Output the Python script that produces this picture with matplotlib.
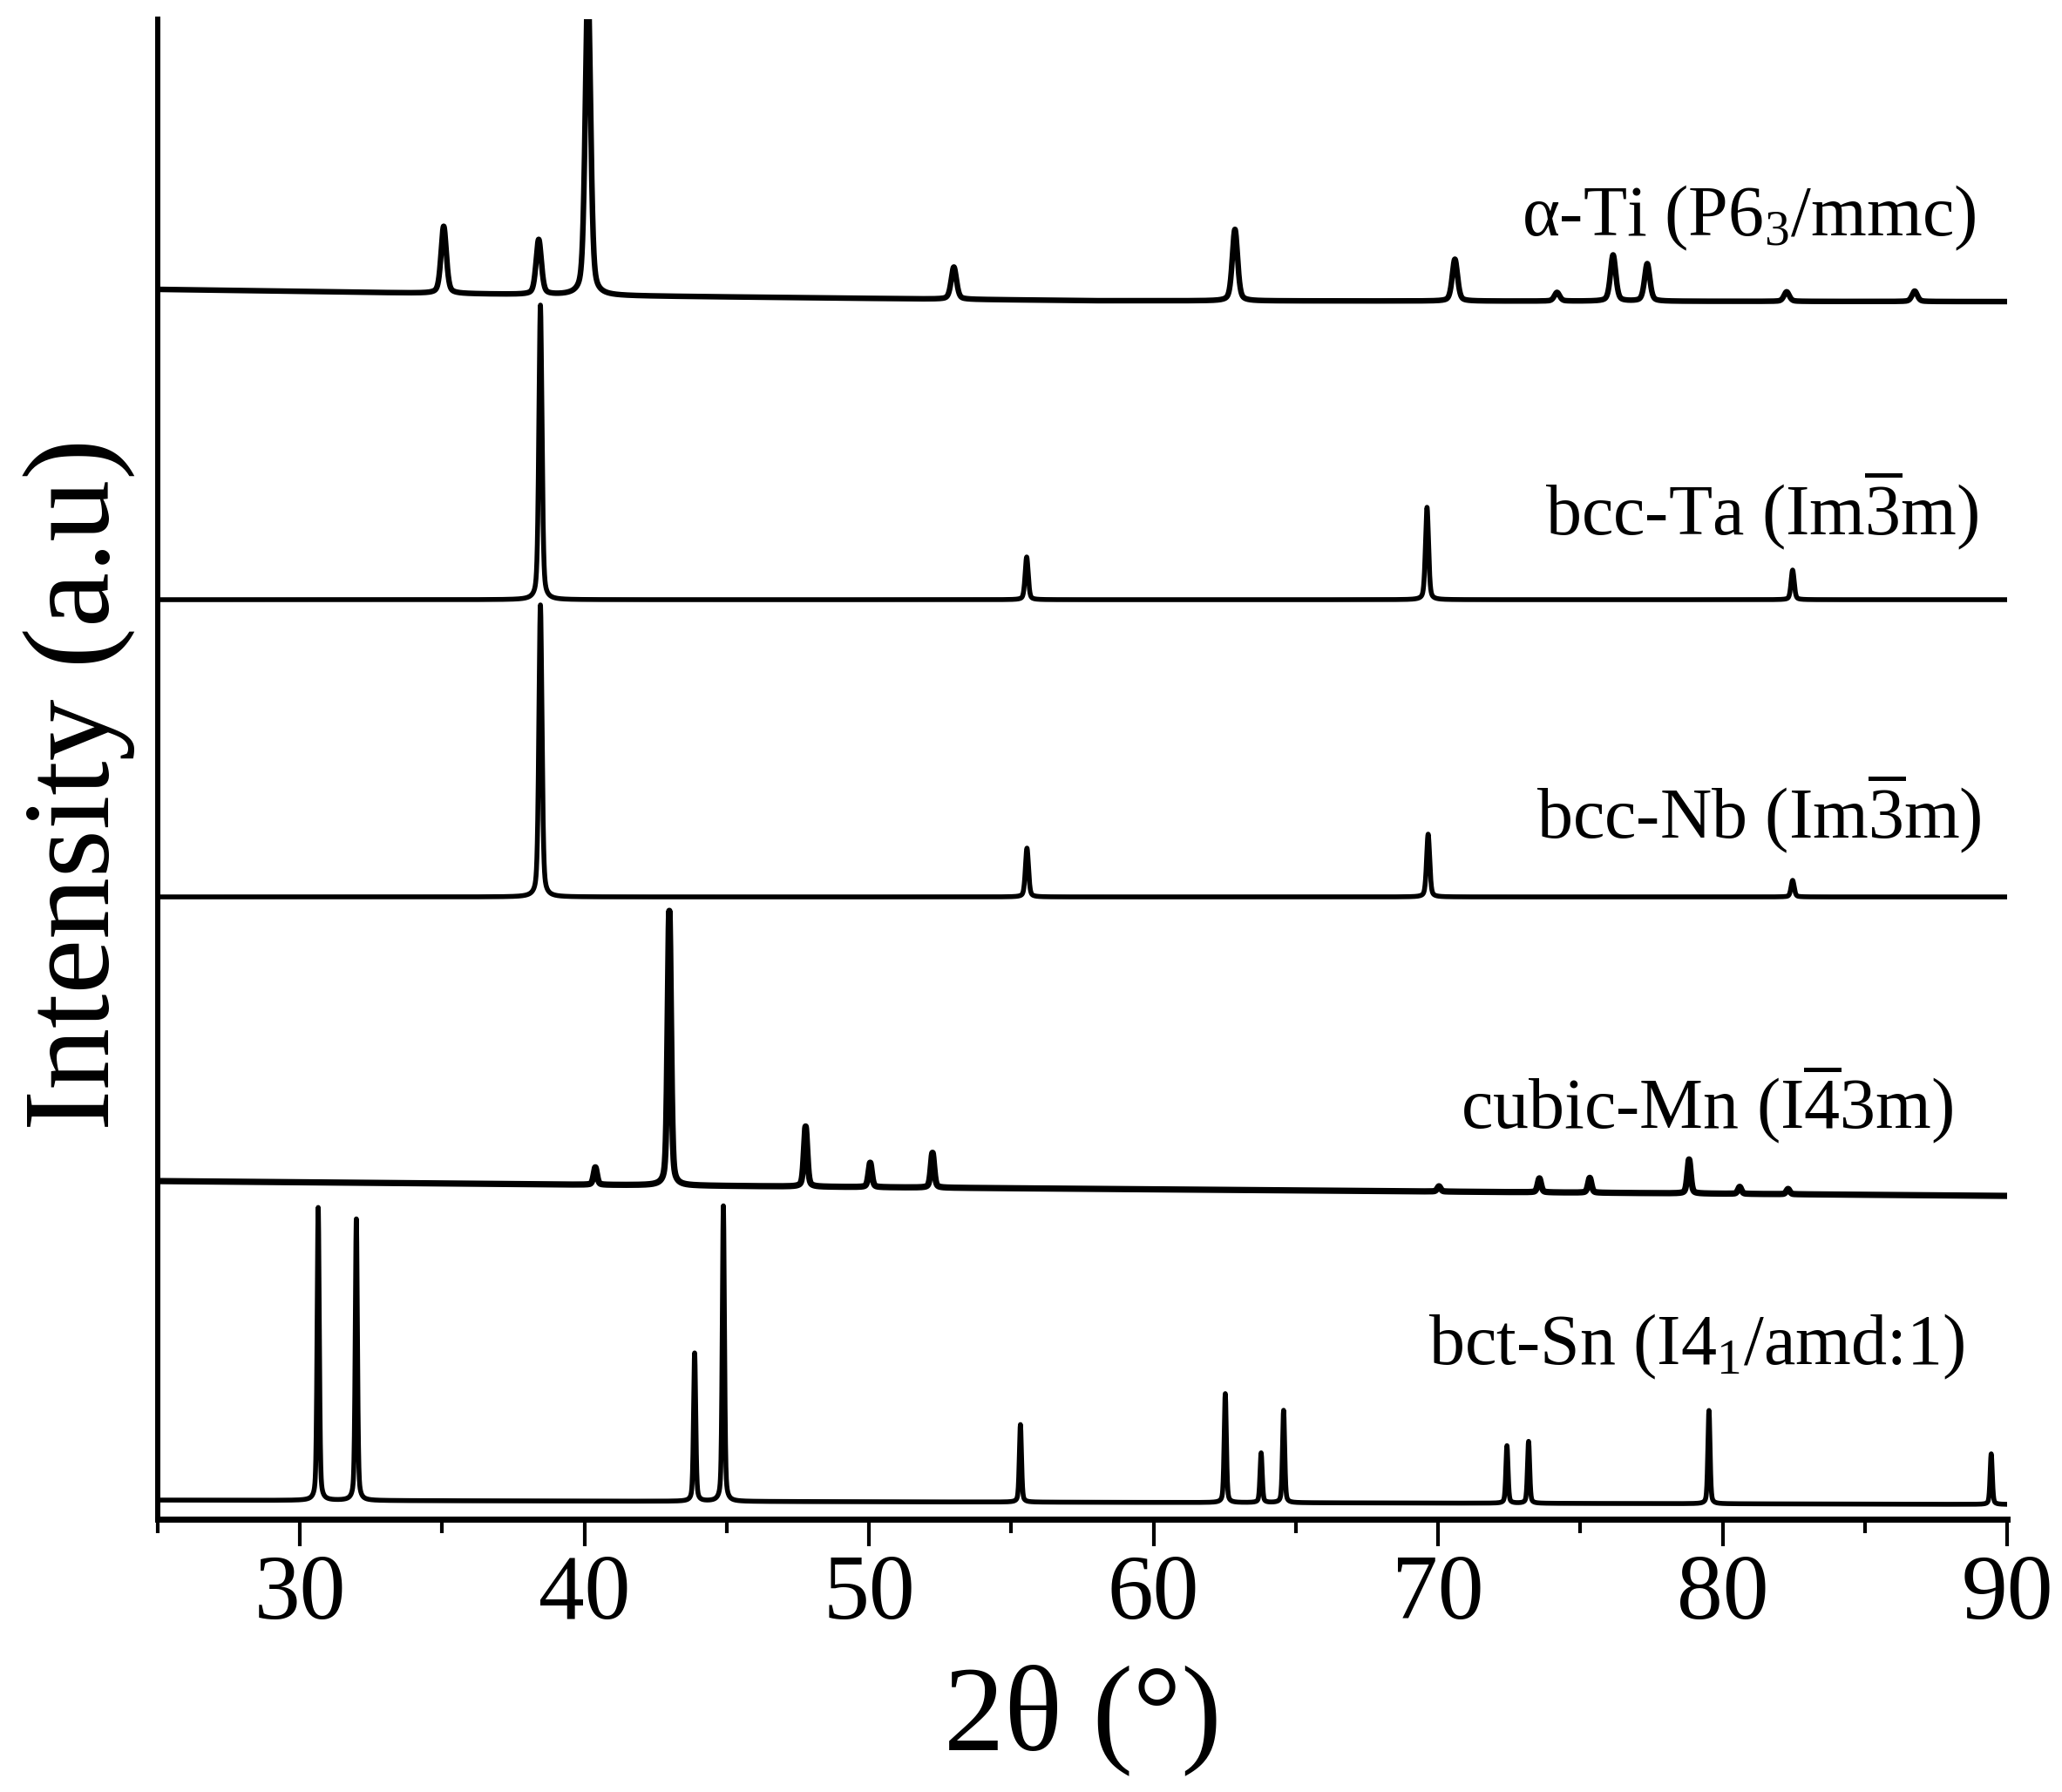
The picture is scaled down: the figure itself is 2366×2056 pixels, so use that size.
import numpy as np
import matplotlib
matplotlib.use('Agg')
import matplotlib.pyplot as plt
from matplotlib.ticker import MultipleLocator

plt.rcParams['font.family'] = 'Liberation Serif'
plt.rcParams['mathtext.fontset'] = 'custom'
plt.rcParams['mathtext.rm'] = 'Liberation Serif'
plt.rcParams['mathtext.it'] = 'Liberation Serif:italic'
plt.rcParams['mathtext.default'] = 'regular'

# ---- data (2theta in deg, intensity in a.u., stacked) ----
# baselines: (2theta, level) points
ti_base_x = [25, 40, 58, 90]
ti_base_y = [1411, 1404, 1398, 1397]
ti_pos = [35.05, 38.39, 40.12, 52.98, 62.86, 70.59, 74.18, 76.15, 77.35, 82.25, 86.75]
ti_hgt = [77, 63, 360, 37, 82, 48, 10, 53, 43, 11, 12]

ta_base_x = [25, 90]
ta_base_y = [1055, 1055]
ta_pos = [38.45, 55.54, 69.61, 82.46]
ta_hgt = [338, 49, 106, 34]

nb_base_x = [25, 90]
nb_base_y = [714, 714]
nb_pos = [38.45, 55.55, 69.65, 82.46]
nb_hgt = [335, 56, 72, 19]

mn_base_x = [25, 50, 90]
mn_base_y = [388, 381, 371]
mn_pos = [40.38, 42.98, 47.77, 50.04, 52.23, 70.03, 73.56, 75.33, 78.82, 80.6, 82.3]
mn_hgt = [20, 315, 69, 28, 40, 6, 16, 17, 39, 8, 6]

sn_base_x = [25, 90]
sn_base_y = [22, 17]
sn_pos = [30.64, 31.98, 43.87, 44.88, 55.32, 62.52, 63.78, 64.57, 72.42, 73.18, 79.52, 89.44]
sn_hgt = [336, 323, 170, 339, 89, 125, 57, 106, 66, 71, 107, 58]

labels = [r'$\alpha$-Ti (P6$_3$/mmc)',
          r'bcc-Ta (Im$\overline{3}$m)',
          r'bcc-Nb (Im$\overline{3}$m)',
          r'cubic-Mn (I$\overline{4}$3m)',
          r'bct-Sn (I4$_1$/amd:1)']
label_x = [88.9, 89.0, 89.1, 88.1, 88.5]
label_y = [1473, 1130, 782, 449, 178]

xticks = [30, 40, 50, 60, 70, 80, 90]


def pattern(tt, bx, by, pos, hgt, fwhm):
    # pseudo-Voigt peaks on top of the read baseline
    y = np.interp(tt, bx, by)
    for p, h in zip(pos, hgt):
        d = (tt - p) / (fwhm / 2.0)
        y = y + h * (0.4 / (1 + d ** 2) + 0.6 * np.exp(-np.log(2) * d ** 2))
    return y


tt = np.linspace(25, 90, 13001)
traces = [
    pattern(tt, ti_base_x, ti_base_y, ti_pos, ti_hgt, 0.22),
    pattern(tt, ta_base_x, ta_base_y, ta_pos, ta_hgt, 0.13),
    pattern(tt, nb_base_x, nb_base_y, nb_pos, nb_hgt, 0.13),
    pattern(tt, mn_base_x, mn_base_y, mn_pos, mn_hgt, 0.14),
    pattern(tt, sn_base_x, sn_base_y, sn_pos, sn_hgt, 0.09),
]
widths = [4.6, 4.0, 4.0, 5.2, 4.0]  # noisy scans look heavier

fig = plt.figure(figsize=(23.66, 20.56), dpi=100)
ax = fig.add_axes([0.0765, 0.1522, 0.8969, 0.8371])

for y, w in zip(traces, widths):
    ax.plot(tt, y, color='black', lw=w)

for s, lx, ly in zip(labels, label_x, label_y):
    ax.text(lx, ly, s, ha='right', va='baseline', fontsize=59)

ax.set_xlim(25, 90)
ax.set_ylim(0, 1721)

ax.spines['top'].set_visible(False)
ax.spines['right'].set_visible(False)
ax.spines['left'].set_linewidth(4.3)
ax.spines['bottom'].set_linewidth(5)

ax.set_xticks(xticks)
ax.xaxis.set_minor_locator(MultipleLocator(5))
ax.tick_params(axis='x', which='major', direction='out', length=22, width=3,
               labelsize=76, pad=7)
ax.tick_params(axis='x', which='minor', direction='out', length=11.5, width=3)
ax.set_yticks([])

ax.set_xlabel(u'2\u03b8 (\u00b0)', fontsize=100)
ax.xaxis.set_label_coords(0.5, -0.0965)
ax.set_ylabel('Intensity (a.u)', fontsize=102)
ax.yaxis.set_label_coords(-0.0123, 0.49)

fig.savefig('out.png', dpi=100)
